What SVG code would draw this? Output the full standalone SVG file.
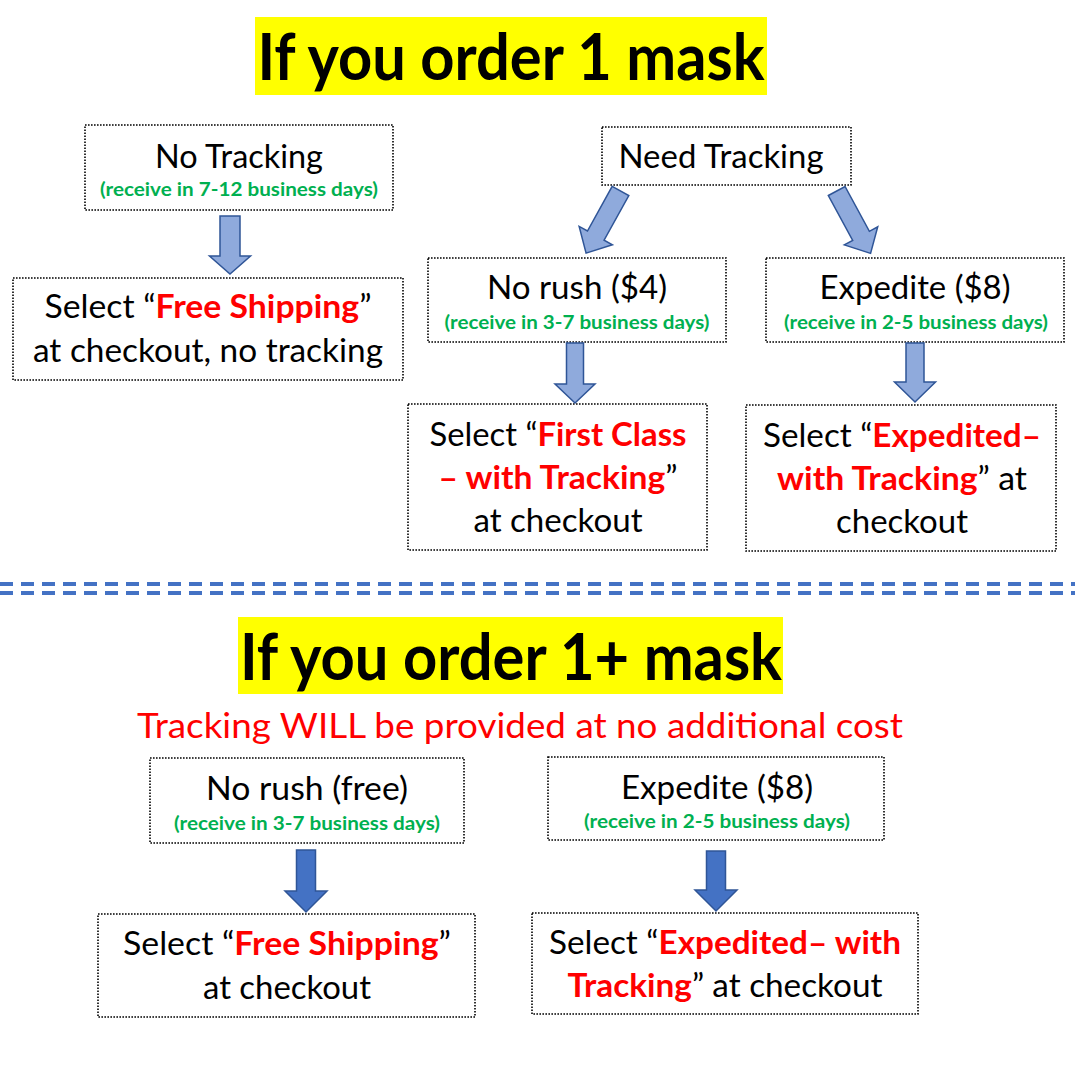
<svg xmlns="http://www.w3.org/2000/svg" width="1075" height="1074" viewBox="0 0 1075 1074">
<style>
.box{fill:#fff;stroke:#000;stroke-width:1.6;stroke-dasharray:1.6 1.4}
.t{font-family:Lato,"Open Sans","Liberation Sans",sans-serif;fill:#000;text-anchor:middle}
.main{font-size:32px}
.g{font-size:19px;font-weight:bold;fill:#00B050}
.r{font-weight:bold;fill:#FF0000}
.title{font-size:65px;font-weight:bold}
.sub{font-size:35px;fill:#FF0000}
.a1{fill:#8FAADC;stroke:#2F5597;stroke-width:1.5;stroke-linejoin:miter}
.a2{fill:#4472C4;stroke:#2F5597;stroke-width:1.5;stroke-linejoin:miter}
.sep{stroke:#4472C4;stroke-width:4;stroke-dasharray:13 8;fill:none}
</style>
<rect width="1075" height="1074" fill="#fff"/>

<g id="title1">
<rect x="255" y="17" width="512" height="78" fill="#FFFF00"/>
<text class="t title" x="511" y="80" textLength="507" lengthAdjust="spacingAndGlyphs">If you order 1 mask</text>
</g>

<g id="no-tracking">
<rect class="box" x="85" y="125" width="308" height="85"/>
<text class="t main" x="239" y="168" textLength="168" lengthAdjust="spacingAndGlyphs">No Tracking</text>
<text class="t g" x="239" y="196" textLength="278" lengthAdjust="spacingAndGlyphs">(receive in 7-12 business days)</text>
</g>

<g id="free-shipping-1">
<rect class="box" x="13" y="278" width="390" height="102"/>
<text class="t main" x="208" y="318" textLength="327" lengthAdjust="spacingAndGlyphs">Select “<tspan class="r">Free Shipping</tspan>”</text>
<text class="t main" x="208" y="362" textLength="350" lengthAdjust="spacingAndGlyphs">at checkout, no tracking</text>
</g>

<g id="need-tracking">
<rect class="box" x="602" y="127" width="249" height="58"/>
<text class="t main" x="721" y="168" textLength="205" lengthAdjust="spacingAndGlyphs">Need Tracking</text>
</g>

<g id="no-rush-4">
<rect class="box" x="428" y="258" width="298" height="84"/>
<text class="t main" x="577" y="299" textLength="180" lengthAdjust="spacingAndGlyphs">No rush ($4)</text>
<text class="t g" x="577" y="329" textLength="265" lengthAdjust="spacingAndGlyphs">(receive in 3-7 business days)</text>
</g>

<g id="expedite-8-top">
<rect class="box" x="766" y="258" width="298" height="84"/>
<text class="t main" x="915" y="299" textLength="191" lengthAdjust="spacingAndGlyphs">Expedite ($8)</text>
<text class="t g" x="916" y="329" textLength="264" lengthAdjust="spacingAndGlyphs">(receive in 2-5 business days)</text>
</g>

<g id="first-class">
<rect class="box" x="408" y="404" width="299" height="146"/>
<text class="t main" x="558" y="446" textLength="257" lengthAdjust="spacingAndGlyphs">Select “<tspan class="r">First Class</tspan></text>
<text class="t main" x="558" y="489" textLength="239" lengthAdjust="spacingAndGlyphs"><tspan class="r">– with Tracking</tspan>”</text>
<text class="t main" x="558" y="532" textLength="169" lengthAdjust="spacingAndGlyphs">at checkout</text>
</g>

<g id="expedited-top">
<rect class="box" x="746" y="405" width="310" height="146"/>
<text class="t main" x="902" y="447" textLength="278" lengthAdjust="spacingAndGlyphs">Select “<tspan class="r">Expedited–</tspan></text>
<text class="t main" x="902" y="490" textLength="250" lengthAdjust="spacingAndGlyphs"><tspan class="r">with Tracking</tspan>” at</text>
<text class="t main" x="902" y="533" textLength="132" lengthAdjust="spacingAndGlyphs">checkout</text>
</g>

<g id="separator">
<line class="sep" x1="0" y1="584" x2="1075" y2="584"/>
<line class="sep" x1="0" y1="593" x2="1075" y2="593"/>
</g>

<g id="title2">
<rect x="238" y="617" width="545" height="77" fill="#FFFF00"/>
<text class="t title" x="511" y="680" textLength="542" lengthAdjust="spacingAndGlyphs">If you order 1+ mask</text>
<text class="t sub" x="520" y="738" textLength="766" lengthAdjust="spacingAndGlyphs">Tracking WILL be provided at no additional cost</text>
</g>

<g id="no-rush-free">
<rect class="box" x="150" y="758" width="314" height="85"/>
<text class="t main" x="307" y="800" textLength="202" lengthAdjust="spacingAndGlyphs">No rush (free)</text>
<text class="t g" x="307" y="830" textLength="266" lengthAdjust="spacingAndGlyphs">(receive in 3-7 business days)</text>
</g>

<g id="expedite-8-bottom">
<rect class="box" x="548" y="757" width="336" height="83"/>
<text class="t main" x="717" y="799" textLength="192" lengthAdjust="spacingAndGlyphs">Expedite ($8)</text>
<text class="t g" x="717" y="828" textLength="266" lengthAdjust="spacingAndGlyphs">(receive in 2-5 business days)</text>
</g>

<g id="free-shipping-2">
<rect class="box" x="98" y="914" width="377" height="103"/>
<text class="t main" x="287" y="955" textLength="328" lengthAdjust="spacingAndGlyphs">Select “<tspan class="r">Free Shipping</tspan>”</text>
<text class="t main" x="287" y="999" textLength="168" lengthAdjust="spacingAndGlyphs">at checkout</text>
</g>

<g id="expedited-bottom">
<rect class="box" x="532" y="913" width="386" height="101"/>
<text class="t main" x="725" y="954" textLength="352" lengthAdjust="spacingAndGlyphs">Select “<tspan class="r">Expedited– with</tspan></text>
<text class="t main" x="725" y="997" textLength="315" lengthAdjust="spacingAndGlyphs"><tspan class="r">Tracking</tspan>” at checkout</text>
</g>

<g id="connectors">
<path class="a1" transform="translate(230,216)" d="M-10,0 L10,0 L10,40 L20.5,40 L0,58 L-20.5,40 L-10,40 Z"/>
<path class="a1" transform="translate(620.5,191) rotate(29)" d="M-9.5,0 L9.5,0 L9.5,51 L19,51 L0,71 L-19,51 L-9.5,51 Z"/>
<path class="a1" transform="translate(836.7,191) rotate(-28.5)" d="M-9.5,0 L9.5,0 L9.5,51 L19,51 L0,71 L-19,51 L-9.5,51 Z"/>
<path class="a1" transform="translate(575,343)" d="M-8.5,0 L8.5,0 L8.5,41 L20,41 L0,60 L-20,41 L-8.5,41 Z"/>
<path class="a1" transform="translate(915,343)" d="M-9,0 L9,0 L9,39 L20.5,39 L0,59 L-20.5,39 L-9,39 Z"/>
<path class="a2" transform="translate(306,850)" d="M-9.5,0 L9.5,0 L9.5,41 L21,41 L0,62 L-21,41 L-9.5,41 Z"/>
<path class="a2" transform="translate(716,851)" d="M-9.5,0 L9.5,0 L9.5,39 L21,39 L0,60 L-21,39 L-9.5,39 Z"/>
</g>
</svg>
